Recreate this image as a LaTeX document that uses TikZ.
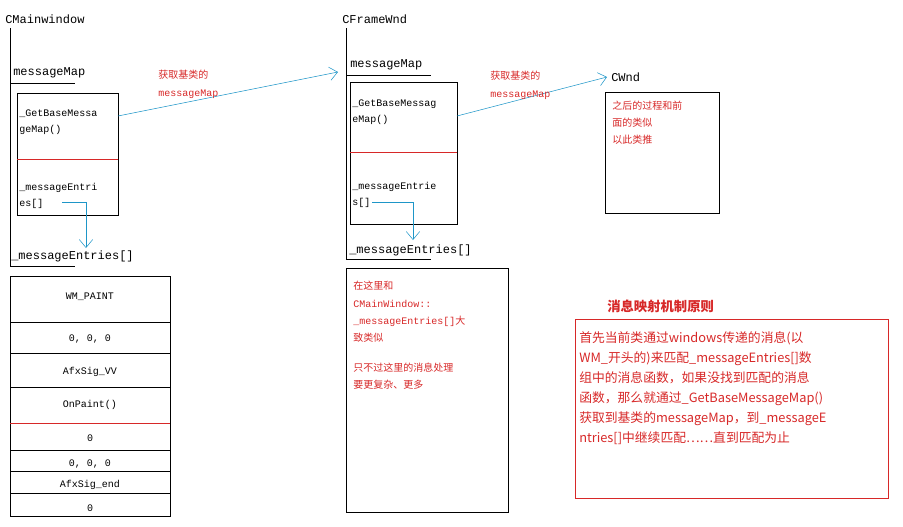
\documentclass[tikz,border=0pt]{standalone}
\usepackage{fontspec}
\setmainfont{Liberation Mono}
\newfontfamily\cjk{Noto Sans CJK SC}
\usetikzlibrary{arrows.meta, positioning}
\definecolor{linkblue}{RGB}{30,150,200}
\definecolor{notered}{RGB}{215,40,40}

\tikzset{
  lbl/.style={anchor=west, inner sep=0pt, font=\fontsize{9}{11}\selectfont},
  note/.style={anchor=north west, inner sep=0pt, align=left, text=notered, font=\cjk\fontsize{7.5}{12}\selectfont},
  cell/.style={inner sep=0pt, font=\fontsize{7.5}{9}\selectfont},
  link/.style={linkblue, -{Straight Barb[length=6pt, width=10pt]}},
}

\begin{document}
\begin{tikzpicture}[x=0.75pt, y=-0.75pt]
\useasboundingbox (0,0) rectangle (903,526);

% CMainwindow
\node[lbl] (mwname) at (5,19) {CMainwindow};
\draw (10,28) -- (10,266);
\node[lbl] (mwmap) at (13,73) {messageMap};
\draw (10,83) -- (75,83);
\draw (17,93) rectangle (118,215);
\draw[notered] (17,159) -- (118,159);
\node[note, text=black, font=\fontsize{7.5}{12}\selectfont] (mwget) at (19,110) {\_GetBaseMessa\\geMap()};
\node[note, text=black, font=\fontsize{7.5}{12}\selectfont] (mwent) at (19,183) {\_messageEntri\\es[]};
\coordinate (mwfrom) at (62,202);
\node[lbl] (mwlist) at (11,256) {\_messageEntries[]};
\draw (10,266) -- (75,266);
\draw[link] (mwfrom) -| (86,248);

% table of entries
\draw (10,276) rectangle (170,516);
\foreach \y in {322,353,387,450,471,493} \draw (10,\y) -- (170,\y);
\draw[notered] (10,423) -- (170,423);
\node[cell] (e1) at (90,297) {WM\_PAINT};
\node[cell] (e2) at (90,339) {0, 0, 0};
\node[cell] (e3) at (90,372) {AfxSig\_VV};
\node[cell] (e4) at (90,405) {OnPaint()};
\node[cell] (e5) at (90,438) {0};
\node[cell] (e6) at (90,464) {0, 0, 0};
\node[cell] (e7) at (90,485) {AfxSig\_end};
\node[cell] (e8) at (90,508) {0};

% CFrameWnd
\node[lbl] (fwname) at (342,19) {CFrameWnd};
\draw (346,28) -- (346,259);
\node[lbl] (fwmap) at (350,65) {messageMap};
\draw (346,75) -- (431,75);
\draw (350,82) rectangle (457,224);
\draw[notered] (350,152) -- (457,152);
\node[note, text=black, font=\fontsize{7.5}{12}\selectfont] (fwget) at (352,100) {\_GetBaseMessag\\eMap()};
\node[note, text=black, font=\fontsize{7.5}{12}\selectfont] (fwent) at (352,182) {\_messageEntrie\\s[]};
\coordinate (fwfrom) at (372,202);
\node[lbl] (fwlist) at (349,250) {\_messageEntries[]};
\draw (346,259) -- (431,259);
\draw[link] (fwfrom) -| (413,240);
\draw (346,268) rectangle (508,512);
\node[note, font=\fontsize{7.5}{13}\selectfont] (fwnote) at (353,281) {{\cjk 在这里和}\\CMainWindow::\\\_messageEntries[]{\cjk 大}\\{\cjk 致类似}\\[9pt]{\cjk 只不过这里的消息处理}\\{\cjk 要更复杂、更多}};

% CWnd
\node[lbl] (cwname) at (611,77) {CWnd};
\draw (605,92) rectangle (719,213);
\node[note, font=\cjk\fontsize{7.5}{12.5}\selectfont] (cwnote) at (612,101) {之后的过程和前\\面的类似\\以此类推};

% links between the maps
\coordinate (mwget-e) at (118,116);
\coordinate (fwget-e) at (457,116);
\draw[link] (mwget-e) -- (338,72);
\draw[link] (fwget-e) -- (607,77);
\node[note, font=\fontsize{7.5}{13}\selectfont] (lnk1) at (158,70) {{\cjk 获取基类的}\\messageMap};
\node[note, font=\fontsize{7.5}{13}\selectfont] (lnk2) at (490,71) {{\cjk 获取基类的}\\messageMap};

% principle
\node[lbl, text=notered, font=\cjk\bfseries\fontsize{10}{12}\selectfont] (ptitle) at (607,306) {消息映射机制原则};
\draw[notered] (575,319) rectangle (888,498);
\node[note, font=\cjk\fontsize{9.6}{15}\selectfont] (ptext) at (579,331) {首先当前类通过windows传递的消息(以\\WM\_开头的)来匹配\_messageEntries[]数\\组中的消息函数，如果没找到匹配的消息\\函数，那么就通过\_GetBaseMessageMap()\\获取到基类的messageMap，到\_messageE\\ntries[]中继续匹配……直到匹配为止};
\end{tikzpicture}
\end{document}
